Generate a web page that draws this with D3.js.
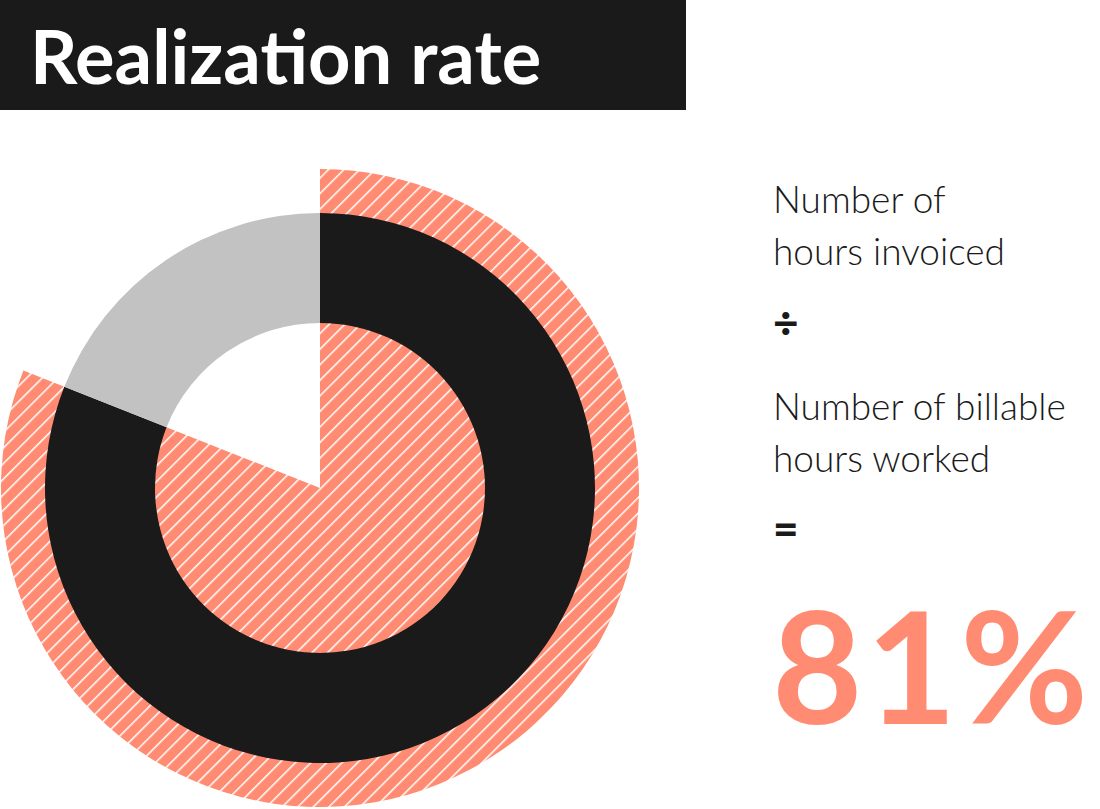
<!DOCTYPE html>
<html><head><meta charset="utf-8">
<script src="https://cdn.jsdelivr.net/npm/d3@7"></script>
<style>body{margin:0;background:#fff;}</style>
</head><body>
<svg id="chart" width="1100" height="809"></svg>
<script>
// data
var title = 'Realization rate';
var rate = 0.81;
var formulaLines = ['Number of', 'hours invoiced', '÷', 'Number of billable', 'hours worked', '='];

var svg = d3.select('#chart');
var cx = 320, cy = 488;
var salmon = '#ff8b73';

// hatch pattern
var defs = svg.append('defs');
var pat = defs.append('pattern')
  .attr('id', 'hatch')
  .attr('patternUnits', 'userSpaceOnUse')
  .attr('width', 11).attr('height', 11)
  .attr('patternTransform', 'rotate(45)');
pat.append('rect').attr('width', 11).attr('height', 11).attr('fill', salmon);
pat.append('line').attr('x1', 0).attr('y1', 0).attr('x2', 0).attr('y2', 11)
  .attr('stroke', '#fff').attr('stroke-width', 3);

// title
svg.append('rect').attr('x', 0).attr('y', 0).attr('width', 686).attr('height', 110).attr('fill', '#1a1a1a');
svg.append('text').attr('x', 30).attr('y', 84)
  .style('font-family', 'Lato').style('font-weight', 700).style('font-size', '74px')
  .attr('fill', '#fff').text(title);

var angle = d3.scaleLinear().domain([0, 1]).range([0, 2 * Math.PI]);
var g = svg.append('g').attr('transform', `translate(${cx},${cy})`);

// hatched pie
g.append('path')
  .attr('d', d3.arc().innerRadius(0).outerRadius(319).startAngle(angle(0)).endAngle(angle(rate)))
  .attr('fill', 'url(#hatch)');
// black part
g.append('path')
  .attr('d', d3.arc().innerRadius(165).outerRadius(275).startAngle(angle(0)).endAngle(angle(rate)))
  .attr('fill', '#1a1a1a');
// grey remainder
g.append('path')
  .attr('d', d3.arc().innerRadius(165).outerRadius(275).startAngle(angle(rate)).endAngle(angle(1)))
  .attr('fill', '#c2c2c2');

// formula text
var ys = [213, 265, 338, 420, 472, 545];
var txt = svg.append('g').attr('fill', '#1a1a1a')
  .style('font-family', 'Lato').style('font-weight', 300).style('font-size', '37px');
formulaLines.forEach(function(t, i){
  txt.append('text').attr('x', 773).attr('y', ys[i])
    .style('font-weight', (t == '÷' || t == '=') ? 900 : 300)
    .style('font-size', (t == '÷' || t == '=') ? '44px' : '37px')
    .text(t);
});
svg.append('text').attr('x', 772).attr('y', 724)
  .style('font-family', 'Lato').style('font-weight', 700).style('font-size', '156px')
  .attr('fill', salmon).attr('textLength', 316).text(d3.format('.0%')(rate));
</script>
</body></html>
